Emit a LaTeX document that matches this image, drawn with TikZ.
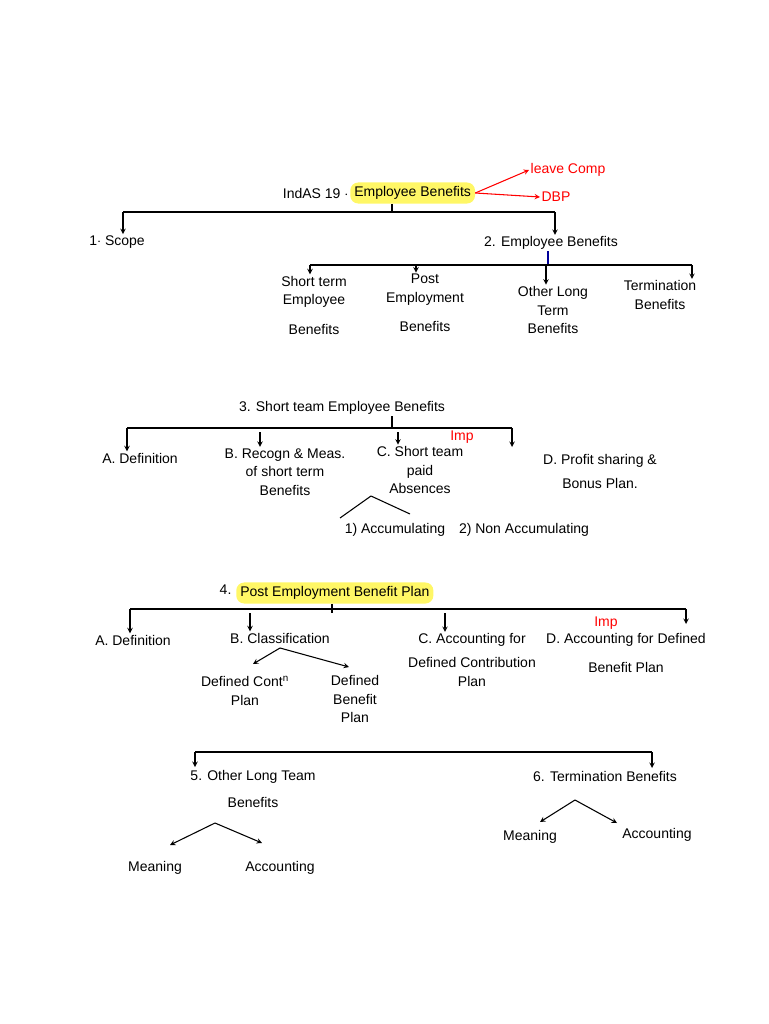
\documentclass[tikz,border=0pt]{standalone}
\usepackage{fontspec}
\setmainfont{Liberation Sans}
\usetikzlibrary{arrows}
\begin{document}
\begin{tikzpicture}
	[x=0.75pt,y=-0.75pt,
	txt/.style ={align=center, font=\fontsize{10.5}{14}\selectfont, inner sep=1pt},
	note/.style ={txt, text=red},
	hl/.style ={fill=yellow!60, rounded corners=6pt, inner sep=3pt},
	tree/.style ={draw, thick, line join=round},
	down/.style ={tree, ->, >=stealth},
	]
	\useasboundingbox (0,0) rectangle (768,1024);

	% title
	\node[txt, anchor=east] (T0) at (350,193) {IndAS 19 $\cdot$};
	\node[txt, hl, anchor=west] (T1) at (350,193) {Employee Benefits};
	\node[note] (N1) at (568,170) {leave Comp};
	\node[note] (N2) at (556,197) {DBP};
	\draw[red, thick, ->, >=stealth] (T1.east) -- (N1.west);
	\draw[red, thick, ->, >=stealth] (T1.east) -- (N2.west);

	\node[txt] (S1) at (117,242) {1$\cdot$ Scope};
	\node[txt] (S2) at (551,243) {2. Employee Benefits};
	\draw[tree] (T1.south -| 392,0) -- (392,212) coordinate (J1);
	\draw[tree] (123,212) -- (555,212);
	\draw[down] (123,212) -- (S1.north -| 123,0);
	\draw[down] (555,212) -- (S2.north -| 555,0);

	\node[txt] (E1) at (314,305) {Short term\\Employee\\[8pt]Benefits};
	\node[txt] (E2) at (425,303) {Post\\Employment\\[8pt]Benefits};
	\node[txt] (E3) at (553,310) {Other Long\\Term\\Benefits};
	\node[txt] (E4) at (660,295) {Termination\\Benefits};
	\draw[tree, blue!60!black] (S2.south -| 548,0) -- (548,265);
	\draw[tree] (310,265) -- (692,265);
	\draw[down] (310,265) -- (E1.north -| 310,0);
	\draw[down] (416,265) -- (E2.north -| 416,0);
	\draw[down] (546,265) -- (E3.north -| 546,0);
	\draw[down] (692,265) -- (E4.north -| 692,0);

	% section 3
	\node[txt] (H3) at (342,408) {3. Short team Employee Benefits};
	\node[txt] (A3) at (140,458) {A. Definition};
	\node[txt] (B3) at (285,472) {B. Recogn \& Meas.\\of short term\\Benefits};
	\node[txt] (C3) at (420,470) {C. Short team\\paid\\Absences};
	\node[note] (I3) at (462,437) {Imp};
	\node[txt] (D3) at (600,471) {D. Profit sharing \&\\[4pt]Bonus Plan.};
	\draw[tree] (H3.south -| 392,0) -- (392,428);
	\draw[tree] (127,428) -- (512,428);
	\draw[down] (127,428) -- (A3.north -| 127,0);
	\draw[down] (260,432) -- (B3.north -| 260,0);
	\draw[down] (398,432) -- (C3.north -| 398,0);
	\draw[down] (512,428) -- (512,447);
	\node[txt] (C31) at (395,530) {1) Accumulating};
	\node[txt] (C32) at (524,530) {2) Non Accumulating};
	\draw[tree] (340,518) -- (371,496) -- (410,514);

	% section 4
	\node[txt, anchor=east] (H40) at (233,590) {4.};
	\node[txt, hl, anchor=west] (H4) at (236,593) {Post Employment Benefit Plan};
	\node[txt] (A4) at (133,640) {A. Definition};
	\node[txt] (B4) at (280,638) {B. Classification};
	\node[txt] (C4) at (472,660) {C. Accounting for\\[4pt]Defined Contribution\\Plan};
	\node[txt] (D4) at (626,653) {D. Accounting for Defined\\[8pt]Benefit Plan};
	\node[note] (I4) at (606,623) {Imp};
	\draw[tree] (H4.south -| 332,0) -- (332,613);
	\draw[tree] (130,609) -- (686,609);
	\draw[down] (130,609) -- (A4.north -| 130,0);
	\draw[down] (250,613) -- (B4.north -| 250,0);
	\draw[down] (445,613) -- (C4.north -| 445,0);
	\draw[down] (686,609) -- (686,624);
	\node[txt] (B41) at (245,691) {Defined Cont$^{\mathrm n}$\\Plan};
	\node[txt] (B42) at (355,699) {Defined\\Benefit\\Plan};
	\draw[down] (280,648) -- (253,664);
	\draw[down] (280,648) -- (349,667);

	% sections 5 and 6
	\node[txt] (H5) at (253,789) {5. Other Long Team\\[6pt]Benefits};
	\node[txt] (H6) at (605,776) {6. Termination Benefits};
	\draw[tree] (195,752) -- (652,752);
	\draw[down] (195,752) -- (195,767);
	\draw[down] (652,752) -- (652,768);
	\node[txt] (M5) at (155,868) {Meaning};
	\node[txt] (K5) at (280,868) {Accounting};
	\draw[down] (215,823) -- (170,845);
	\draw[down] (215,823) -- (262,843);
	\node[txt] (M6) at (530,837) {Meaning};
	\node[txt] (K6) at (657,835) {Accounting};
	\draw[down] (575,800) -- (540,822);
	\draw[down] (575,800) -- (617,823);
\end{tikzpicture}
\end{document}
